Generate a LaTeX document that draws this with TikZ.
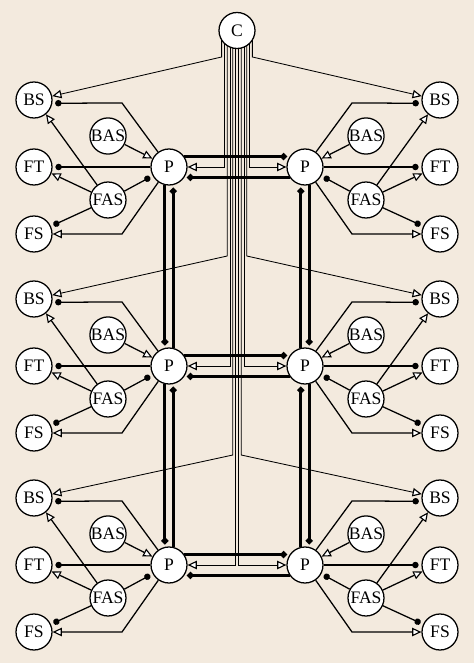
\documentclass[tikz,border=0pt]{standalone}
\usepackage{fontspec}
\setmainfont{Liberation Serif}
\usetikzlibrary{arrows.meta,calc,backgrounds}
\definecolor{paper}{RGB}{243,234,222}

\begin{document}
\begin{tikzpicture}[
    x=0.25mm, y=-0.25mm,
    cell/.style={circle, draw, line width=0.9pt, fill=white, minimum size=9mm, inner sep=0pt, font=\fontsize{12.5}{14}\selectfont},
    link/.style={line width=0.9pt},
    busline/.style={line width=0.6pt},
    trunk/.style={line width=2.2pt},
    exc/.style={-{Triangle[fill=white, length=2.3mm, width=2.1mm, line width=0.8pt]}},
    inh/.style={-{Circle[length=1.6mm, sep=0.7mm]}}
]
\begin{scope}[on background layer]
\fill[paper] (0,0) rectangle (474,663);
\end{scope}

\node[cell] (C) at (237,30.5) {C};
\foreach \r/\y in {1/167,2/366,3/565}{
  \foreach \s/\side in {-1/L,1/R}{
    \node[cell] (P\r\side) at (237+\s*68,\y) {P};
    \node[cell] (BS\r\side) at (237+\s*203,\y-67) {BS};
    \node[cell] (FT\r\side) at (237+\s*203,\y) {FT};
    \node[cell] (FS\r\side) at (237+\s*203,\y+67) {FS};
    \node[cell] (BAS\r\side) at (237+\s*129,\y-31) {BAS};
    \node[cell] (FAS\r\side) at (237+\s*129,\y+33) {FAS};
  }
}

\begin{scope}[on background layer]
\foreach \r/\y in {1/167,2/366,3/565}{
  \foreach \s/\side/\aP/\aB/\aT in {-1/L/-10/-50/-20,1/R/190/230/200}{
    \draw[link, inh] (P\r\side) -- (237+\s*115,\y-64) -- (BS\r\side.\aP);
    \draw[link, exc] (P\r\side) -- (237+\s*115,\y+67) -- (FS\r\side);
    \draw[link, inh] (P\r\side) -- (FT\r\side);
    \draw[link, exc] (BAS\r\side) -- (P\r\side);
    \draw[link, inh] (FAS\r\side) -- (P\r\side);
    \draw[link, exc] (FAS\r\side) -- (BS\r\side.\aB);
    \draw[link, exc] (FAS\r\side) -- (FT\r\side.\aT);
    \draw[link, inh] (FAS\r\side) -- (FS\r\side);
  }
  \draw[trunk, inh] (P\r L.34) -- (P\r R.146);
  \draw[trunk, inh] (P\r R.-146) -- (P\r L.-34);
}
\foreach \r/\n in {1/2,2/3}{
  \foreach \side/\oB/\oT/\iB/\iT in {L/-103/103/-77/77,R/-77/77/-103/103}{
    \draw[trunk, inh] (P\r\side.\oB) -- (P\n\side.\oT);
    \draw[trunk, inh] (P\n\side.\iT) -- (P\r\side.\iB);
  }
}
\foreach \r/\y/\bp/\bb in {1/167/12.6/15.4,2/366/7.0/9.8,3/565/1.4/4.2}{
  \foreach \s/\side/\aC in {-1/L/12,1/R/168}{
    \draw[busline, exc] ($(C)+(\s*\bb,0)$) -- (237+\s*\bb,\y-110) -- (BS\r\side.\aC);
    \draw[busline, exc] ($(C)+(\s*\bp,0)$) |- (P\r\side);
  }
}
\end{scope}
\end{tikzpicture}
\end{document}
